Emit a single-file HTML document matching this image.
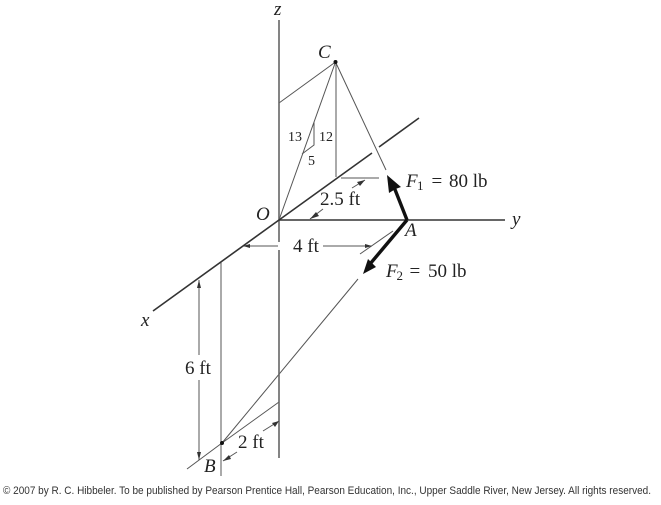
<!DOCTYPE html>
<html><head><meta charset="utf-8"><style>
html,body{margin:0;padding:0;background:#fff;width:661px;height:505px;overflow:hidden}
svg{display:block;filter:blur(0.35px)}
text{font-family:"Liberation Serif",serif;fill:#222;font-size:19px}
.i{font-style:italic}
.s{font-size:14px}
.c{font-family:"Liberation Sans",sans-serif;font-size:10.6px;fill:#333}
</style></head><body>
<svg width="661" height="505" viewBox="0 0 661 505" xmlns="http://www.w3.org/2000/svg">
<g fill="none" stroke="#555" stroke-width="1">
<path d="M335.5 62L279 220M336 62V177M335.5 62L279 103M335.5 62L386 170"/>
<path d="M314 122V145L302 154"/>
<path d="M341 178H379M352 188L365 180M323 209L310 219"/>
<path d="M221 262V476M222 443L358 279M222 443L279 402M187 469L222 443"/>
<path d="M360 254L393 231"/>
<path d="M243 246H278M323 246H372"/>
<path d="M199 280V355M199 380V460"/>
<path d="M223 461L237 452M263 431L279 421"/>
</g>
<g stroke="#666" stroke-width="1.6" fill="none"><path d="M279 20V242M279 250V458"/></g>
<g stroke="#333" stroke-width="1.6" fill="none">
<path d="M419 118L379 147M372 153L279 220L153 311"/>
<path d="M279 220H505"/>
</g>
<g stroke="#111" stroke-width="3.4" fill="none"><path d="M407 220L394 187M407 220L370 264"/></g>
<g fill="#111">
<path d="M387 175L401 187L395.5 189L389 193Z"/>
<path d="M363 274L368 259L372 263L376 267Z"/>
<circle cx="335.5" cy="62" r="2"/><circle cx="222" cy="443" r="2"/>
</g>
<g fill="#333">
<path d="M365 180L357 182L360 186Z"/><path d="M310 219L316 212L319 216Z"/>
<path d="M243 246L250 244V248Z"/><path d="M372 246L365 244V248Z"/>
<path d="M199 280L197 288H201Z"/><path d="M199 460L197 452H201Z"/>
<path d="M223 461L229 455L231 459Z"/><path d="M279 421L272 423L275 427Z"/>
</g>
<text class="i" x="274" y="15">z</text>
<text class="i" x="318" y="58">C</text>
<text class="s" x="288" y="141">13</text>
<text class="s" x="319" y="141">12</text>
<text class="s" x="308" y="165">5</text>
<text x="320" y="205">2.5 ft</text>
<text class="i" x="256" y="220">O</text>
<text class="i" x="406" y="187">F</text><text x="417" y="190" style="font-size:13px">1</text><text x="431.5" y="187">=</text><text x="449" y="187">80 lb</text>
<text class="i" x="512" y="225">y</text>
<text class="i" x="405" y="236">A</text>
<text x="293" y="252">4 ft</text>
<text class="i" x="386" y="277">F</text><text x="396.5" y="280" style="font-size:13px">2</text><text x="409.5" y="277">=</text><text x="428" y="277">50 lb</text>
<text class="i" x="141" y="326">x</text>
<text x="185" y="374">6 ft</text>
<text x="238" y="448">2 ft</text>
<text class="i" x="204" y="472">B</text>
<text class="c" x="3" y="494" textLength="648" lengthAdjust="spacingAndGlyphs">© 2007 by R. C. Hibbeler. To be published by Pearson Prentice Hall, Pearson Education, Inc., Upper Saddle River, New Jersey. All rights reserved.</text>
</svg>
</body></html>
